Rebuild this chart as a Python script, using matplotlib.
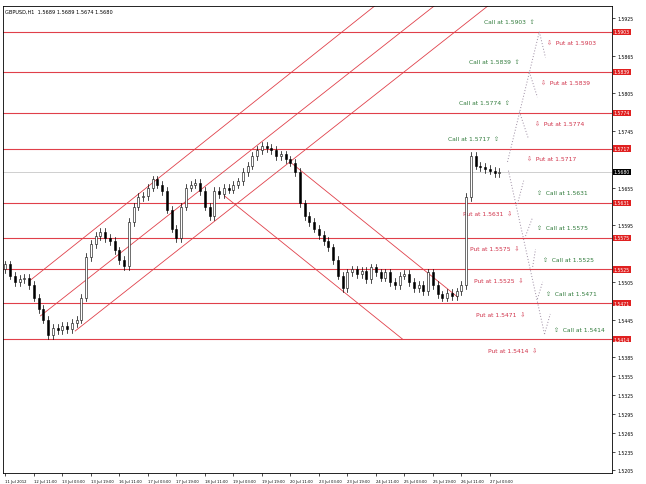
import numpy as np
import matplotlib
matplotlib.use("Agg")
import matplotlib.pyplot as plt
from matplotlib.transforms import blended_transform_factory

# GBPUSD H1, one candle per ~2.7 hours (closes)
closes = [1.5533, 1.5515, 1.5505, 1.5510, 1.5512, 1.5500, 1.5480, 1.5462, 1.5445, 1.5420,
          1.5432, 1.5428, 1.5435, 1.5430, 1.5440, 1.5445, 1.5480, 1.5545, 1.5565, 1.5578,
          1.5585, 1.5575, 1.5570, 1.5555, 1.5540, 1.5530, 1.5600, 1.5625, 1.5640, 1.5642,
          1.5655, 1.5668, 1.5660, 1.5650, 1.5620, 1.5590, 1.5575, 1.5625, 1.5655, 1.5660,
          1.5663, 1.5650, 1.5625, 1.5610, 1.5650, 1.5645, 1.5655, 1.5652, 1.5660, 1.5665,
          1.5680, 1.5690, 1.5705, 1.5715, 1.5722, 1.5718, 1.5715, 1.5705, 1.5708, 1.5700,
          1.5695, 1.5680, 1.5630, 1.5610, 1.5600, 1.5590, 1.5580, 1.5570, 1.5560, 1.5540,
          1.5515, 1.5495, 1.5520, 1.5525, 1.5518, 1.5522, 1.5510, 1.5528, 1.5520, 1.5512,
          1.5520, 1.5505, 1.5500, 1.5515, 1.5518, 1.5505, 1.5495, 1.5500, 1.5490, 1.5520,
          1.5500, 1.5485, 1.5480, 1.5488, 1.5482, 1.5490, 1.5500, 1.5640, 1.5705, 1.5690,
          1.5688, 1.5685, 1.5682, 1.5678, 1.5680]
first_open = 1.5525

date_labels = ["11 Jul 2012", "12 Jul 11:00", "13 Jul 03:00", "13 Jul 19:00", "16 Jul 11:00",
               "17 Jul 03:00", "17 Jul 19:00", "18 Jul 11:00", "19 Jul 03:00", "19 Jul 19:00",
               "20 Jul 11:00", "23 Jul 03:00", "23 Jul 19:00", "24 Jul 11:00", "25 Jul 03:00",
               "25 Jul 19:00", "26 Jul 11:00", "27 Jul 03:00"]

call_up = [1.5903, 1.5839, 1.5774, 1.5717]
call_up_x = [111.4, 108.2, 106.3, 104.0]
put_up_x = [114.1, 112.8, 111.4, 109.9]
levels_dn = [1.5631, 1.5575, 1.5525, 1.5471, 1.5414]
call_dn_x = [112.0, 112.0, 113.1, 113.9, 115.4]
put_dn_x = [106.7, 108.2, 109.1, 109.5, 112.0]
last_price = 1.5680

# channels (bar, price) endpoints
up_channel = [((5.3, 1.5508), (78.9, 1.5951)),
              ((7.4, 1.5451), (91.6, 1.5952)),
              ((14.7, 1.5427), (102.9, 1.5952))]
dn_channel = [((60.4, 1.5693), (95.2, 1.5481)),
              ((46.1, 1.5642), (83.6, 1.5414))]

# projected zigzag paths
zig_up = [((105.7, 1.5696), (112.4, 1.5903)), ((112.4, 1.5903), (113.7, 1.5862)),
          ((110.3, 1.5839), (112.0, 1.5799)), ((108.2, 1.5776), (110.1, 1.5733))]
zig_dn = [((105.9, 1.5682), (113.5, 1.5422)), ((107.8, 1.5629), (109.1, 1.5666)),
          ((109.5, 1.5578), (111.0, 1.5608)), ((111.0, 1.5529), (111.6, 1.5557)),
          ((112.0, 1.5478), (113.1, 1.5505)), ((113.5, 1.5422), (114.7, 1.5454))]

RED = "#e0404a"
GREEN = "#2f7a3a"
PUTRED = "#d03048"

fig = plt.figure(figsize=(6.46, 4.85), dpi=100)
ax = fig.add_axes([3/646, 1 - 474/485, 609/646, 467/485])

opens = [first_open] + closes[:-1]
wick = 0.0006
for i, (o, c) in enumerate(zip(opens, closes)):
    hi = max(o, c) + wick
    lo = min(o, c) - wick
    ax.plot([i, i], [lo, hi], color="black", lw=0.5, zorder=3)
    bull = c >= o
    ax.bar(i, max(abs(c - o), 0.00005), bottom=min(o, c), width=0.45,
           color="white" if bull else "black", edgecolor="black", lw=0.4, zorder=4)

for lv in call_up + levels_dn:
    ax.axhline(lv, color=RED, lw=0.8, zorder=2)
ax.axhline(last_price, color="#c8c8c8", lw=0.6, zorder=1)

for (a, b) in up_channel + dn_channel:
    ax.plot([a[0], b[0]], [a[1], b[1]], color=RED, lw=0.6, zorder=2)
for (a, b) in zig_up + zig_dn:
    ax.plot([a[0], b[0]], [a[1], b[1]], color="#9a8aa0", lw=0.7, ls=(0, (1, 2)), zorder=2)

fs = 4.3
for lv, xc, xp in zip(call_up, call_up_x, put_up_x):
    ax.text(xc, lv + 0.0016, f"Call at {lv:.4f}  \u21e7", color=GREEN, fontsize=fs, ha="right", va="center")
    ax.text(xp, lv - 0.0016, f"\u21e9  Put at {lv:.4f}", color=PUTRED, fontsize=fs, ha="left", va="center")
for lv, xc, xp in zip(levels_dn, call_dn_x, put_dn_x):
    ax.text(xc, lv + 0.0016, f"\u21e7  Call at {lv:.4f}", color=GREEN, fontsize=fs, ha="left", va="center")
    ax.text(xp, lv - 0.0017, f"Put at {lv:.4f}  \u21e9", color=PUTRED, fontsize=fs, ha="right", va="center")

tr = blended_transform_factory(ax.transAxes, ax.transData)
for lv in call_up + levels_dn:
    ax.text(1.003, lv, f"{lv:.4f}", transform=tr, fontsize=3.3, color="white", va="center", ha="left",
            bbox=dict(boxstyle="square,pad=0.15", fc="#e02020", ec="none"), zorder=5)
ax.text(1.003, last_price, f"{last_price:.4f}", transform=tr, fontsize=3.3, color="white", va="center",
        ha="left", bbox=dict(boxstyle="square,pad=0.15", fc="black", ec="none"), zorder=5)

ax.text(0.003, 0.995, "GBPUSD,H1  1.5689 1.5689 1.5674 1.5680", transform=ax.transAxes,
        fontsize=3.6, va="top", ha="left")

# ticks: keep only those not hidden by the level boxes
yt = np.arange(1.5205, 1.5930, 0.0030)
marked = call_up + levels_dn + [last_price]
yt = [t for t in yt if min(abs(t - m) for m in marked) > 0.0012]
ax.yaxis.tick_right()
ax.set_yticks(yt)
ax.yaxis.set_major_formatter(matplotlib.ticker.FormatStrFormatter("%.4f"))
ax.tick_params(axis="y", labelsize=3.3, length=2, width=0.5, pad=2)
ax.set_xticks(np.arange(len(date_labels)) * 6)
ax.set_xticklabels(date_labels, fontsize=2.7, ha="left")
ax.tick_params(axis="x", length=2, width=0.5, pad=2)
ax.set_xlim(-0.5, 127.7)
ax.set_ylim(1.5201, 1.5944)
for s in ax.spines.values():
    s.set_linewidth(0.6)

fig.savefig("out.png", dpi=100)
